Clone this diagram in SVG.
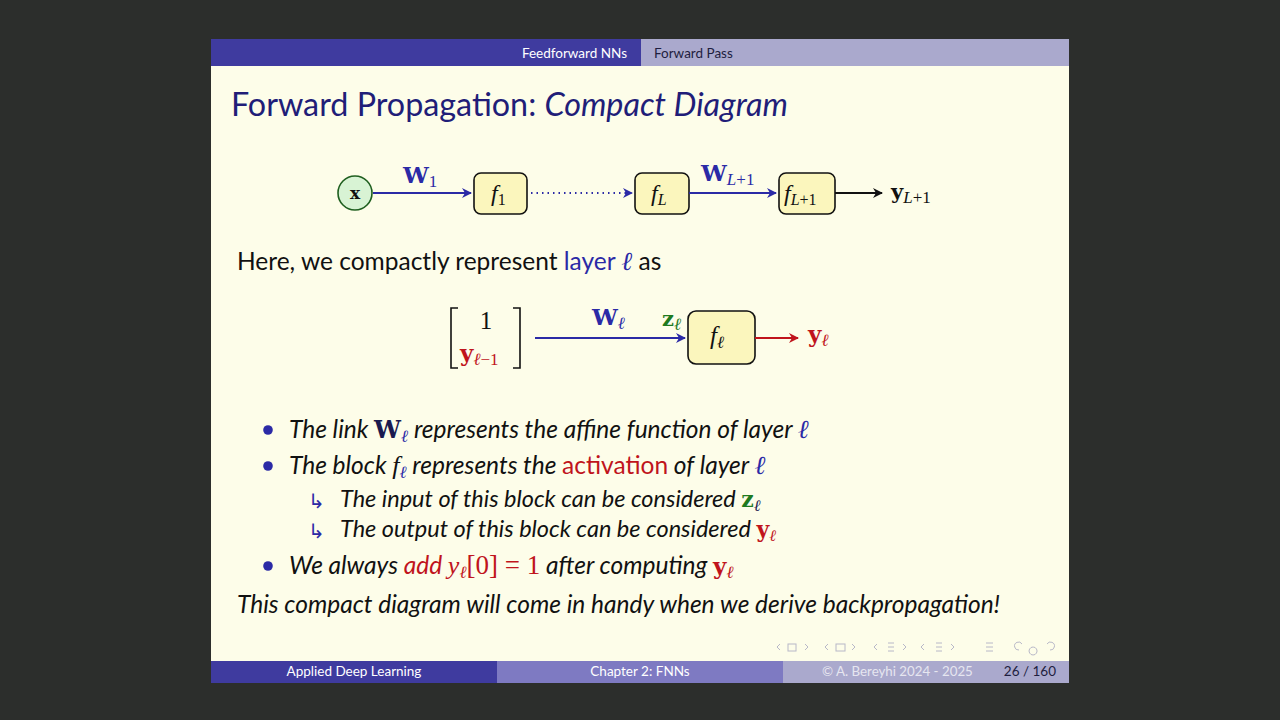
<svg xmlns="http://www.w3.org/2000/svg" width="1280" height="720" viewBox="0 0 1280 720">
<style>
.sans{font-family:Lato,"Open Sans","Liberation Sans",sans-serif}
.it{font-style:italic}
.mi{font-family:"Liberation Serif","DejaVu Serif",serif;font-style:italic}
.bf{font-family:"DejaVu Serif","Liberation Serif",serif;font-weight:bold}
.box{fill:#fbf6bd;stroke:#111;stroke-width:1.6}
.blue{fill:#2b2aa6}
.red{fill:#c0141c}
.green{fill:#1f7a1f}
</style>
<defs>
<marker id="ab" viewBox="0 0 10 10" refX="9" refY="5" markerWidth="10" markerHeight="10" markerUnits="userSpaceOnUse" orient="auto"><path d="M0,0 L10,5 L0,10 L3,5 z" fill="#2b2aa6"/></marker>
<marker id="ak" viewBox="0 0 10 10" refX="9" refY="5" markerWidth="10" markerHeight="10" markerUnits="userSpaceOnUse" orient="auto"><path d="M0,0 L10,5 L0,10 L3,5 z" fill="#111"/></marker>
<marker id="ar" viewBox="0 0 10 10" refX="9" refY="5" markerWidth="10" markerHeight="10" markerUnits="userSpaceOnUse" orient="auto"><path d="M0,0 L10,5 L0,10 L3,5 z" fill="#c0141c"/></marker>
</defs>
<rect x="0" y="0" width="1280" height="720" fill="#2c2e2c"/>
<rect x="211" y="39" width="858" height="644" fill="#fdfde9"/>
<!-- header -->
<rect x="211" y="39" width="430" height="27" fill="#3f3b9f"/>
<rect x="641" y="39" width="428" height="27" fill="#aaa9cd"/>
<text x="627" y="58" text-anchor="end" class="sans" font-size="13.5" fill="#ffffff">Feedforward NNs</text>
<text x="654" y="58" class="sans" font-size="13.5" fill="#1e1e40">Forward Pass</text>
<!-- title -->
<text x="231" y="116" class="sans" font-size="32.3" fill="#211d78">Forward Propagation: <tspan class="it">Compact Diagram</tspan></text>
<!-- top diagram nodes -->
<g id="node-x"><circle cx="355" cy="193" r="17" fill="#d8f3d4" stroke="#1f5f1f" stroke-width="1.6"/><text x="355" y="199" text-anchor="middle" class="bf" font-size="17" fill="#111">x</text></g>
<g id="node-f1"><rect x="474" y="173" width="53" height="41" rx="7" class="box"/><text x="491" y="201" class="mi" font-size="24" fill="#111">f<tspan font-size="16" font-style="normal" dy="4">1</tspan></text></g>
<g id="node-fL"><rect x="635" y="173" width="54" height="41" rx="7" class="box"/><text x="651" y="201" class="mi" font-size="24" fill="#111">f<tspan font-size="16" dy="4">L</tspan></text></g>
<g id="node-fL1"><rect x="779" y="173" width="56" height="41" rx="7" class="box"/><text x="784" y="201" class="mi" font-size="24" fill="#111">f<tspan font-size="16" dy="4">L<tspan font-style="normal">+1</tspan></tspan></text></g>
<g id="label-yL1"><text x="891" y="199" class="bf" font-size="21" fill="#111">y<tspan class="mi" font-weight="normal" font-size="17" dy="4">L<tspan font-style="normal">+1</tspan></tspan></text></g>
<!-- top diagram connectors -->
<g id="connectors-top">
<line x1="373" y1="193" x2="471" y2="193" stroke="#2b2aa6" stroke-width="1.8" marker-end="url(#ab)"/>
<line x1="531" y1="193" x2="632" y2="193" stroke="#2b2aa6" stroke-width="1.8" stroke-dasharray="1.5,4" marker-end="url(#ab)"/>
<line x1="689" y1="193" x2="776" y2="193" stroke="#2b2aa6" stroke-width="1.8" marker-end="url(#ab)"/>
<line x1="835" y1="193" x2="882" y2="193" stroke="#111" stroke-width="1.8" marker-end="url(#ak)"/>
<text x="403" y="183" class="bf blue" font-size="23">W<tspan font-weight="normal" font-family="Liberation Serif,serif" font-size="17" dy="4">1</tspan></text>
<text x="701" y="181" class="bf blue" font-size="23">W<tspan class="mi" font-weight="normal" font-size="17" dy="4">L<tspan font-style="normal">+1</tspan></tspan></text>
</g>
<!-- intro line -->
<text x="237" y="270" class="sans" font-size="24.5" fill="#111">Here, we compactly represent <tspan fill="#2b2aa6">layer <tspan class="mi" font-size="26">ℓ</tspan></tspan> as</text>
<!-- layer diagram -->
<g id="node-input">
<path d="M458,308 H451 V368 H458" fill="none" stroke="#111" stroke-width="1.6"/>
<path d="M513,308 H520 V368 H513" fill="none" stroke="#111" stroke-width="1.6"/>
<text x="486" y="329" text-anchor="middle" font-family="Liberation Serif,serif" font-size="25" fill="#111">1</text>
<text x="460" y="361" class="bf red" font-size="23">y<tspan class="mi" font-weight="normal" font-size="17" dy="4">ℓ<tspan font-style="normal">−1</tspan></tspan></text>
</g>
<g id="node-fl"><rect x="688" y="311" width="67" height="53" rx="8" class="box"/><text x="710" y="344" class="mi" font-size="25" fill="#111">f<tspan font-size="17" dy="4">ℓ</tspan></text></g>
<g id="label-yl"><text x="808" y="342" class="bf red" font-size="23">y<tspan class="mi" font-weight="normal" font-size="17" dy="4">ℓ</tspan></text></g>
<g id="connectors-layer">
<line x1="535" y1="338" x2="685" y2="338" stroke="#2b2aa6" stroke-width="1.8" marker-end="url(#ab)"/>
<line x1="755" y1="338" x2="798" y2="338" stroke="#c0141c" stroke-width="1.8" marker-end="url(#ar)"/>
<text x="592" y="325" class="bf blue" font-size="23">W<tspan class="mi" font-weight="normal" font-size="17" dy="4">ℓ</tspan></text>
<text x="662" y="326" class="bf green" font-size="21">z<tspan class="mi" font-weight="normal" font-size="17" dy="4">ℓ</tspan></text>
</g>
<!-- bullets -->
<g class="sans" font-size="24.5" fill="#111">
<circle cx="268" cy="430" r="4.8" fill="#2b2aa6"/>
<text x="289" y="438" class="it">The link <tspan class="bf" font-style="normal" fill="#1a1a50" font-size="24">W</tspan><tspan class="mi blue" font-size="17" dy="4">ℓ</tspan><tspan dy="-4"> represents the affine function of layer </tspan><tspan class="mi blue" font-size="26">ℓ</tspan></text>
<circle cx="268" cy="466" r="4.8" fill="#2b2aa6"/>
<text x="289" y="474" class="it">The block <tspan class="mi" font-size="26">f</tspan><tspan class="mi blue" font-size="17" dy="4">ℓ</tspan><tspan dy="-4"> represents the </tspan><tspan class="red" font-style="normal">activation</tspan> of layer <tspan class="mi blue" font-size="26">ℓ</tspan></text>
<text x="308" y="508" font-size="20" fill="#2b2aa6" font-family="DejaVu Sans,sans-serif">↳</text>
<text x="340" y="507" class="it" font-size="23.5">The input of this block can be considered <tspan class="bf green" font-style="normal" font-size="22">z</tspan><tspan class="mi" fill="#1a1a50" font-size="16" dy="4">ℓ</tspan></text>
<text x="308" y="538" font-size="20" fill="#2b2aa6" font-family="DejaVu Sans,sans-serif">↳</text>
<text x="340" y="537" class="it" font-size="23.5">The output of this block can be considered <tspan class="bf red" font-style="normal" font-size="22">y</tspan><tspan class="mi red" font-size="16" dy="4">ℓ</tspan></text>
<circle cx="268" cy="566" r="4.8" fill="#2b2aa6"/>
<text x="289" y="574" class="it">We always <tspan class="red">add</tspan> <tspan class="mi red" font-size="26">y</tspan><tspan class="mi red" font-size="17" dy="4">ℓ</tspan><tspan class="red" font-family="Liberation Serif,serif" font-style="normal" font-size="27" dy="-4">[0]  =  1</tspan> after computing <tspan class="bf red" font-style="normal" font-size="23">y</tspan><tspan class="mi red" font-size="17" dy="4">ℓ</tspan></text>
<text x="237" y="613" class="it">This compact diagram will come in handy when we derive backpropagation!</text>
</g>
<!-- nav icons -->
<g fill="none" stroke="#b8b8c8" stroke-width="1">
<rect x="788" y="644" width="8" height="7"/>
<rect x="836" y="644" width="9" height="7"/>
<path d="M777,647 l3,-3 M777,647 l3,3 M805,644 l3,3 l-3,3 M825,647 l3,-3 M825,647 l3,3 M852,644 l3,3 l-3,3"/>
<path d="M874,647 l3,-3 M874,647 l3,3 M888,643 h6 M888,647 h6 M888,651 h6 M903,644 l3,3 l-3,3"/>
<path d="M921,647 l3,-3 M921,647 l3,3 M936,643 h6 M936,647 h6 M936,651 h6 M951,644 l3,3 l-3,3"/>
<path d="M986,643 h7 M986,647 h7 M986,651 h7"/>
<path d="M1019,650 a4,4 0 1 1 3,-6 M1033,647 a4,4 0 1 0 0.1,0 M1050,650 a4,4 0 1 0 -3,-6"/>
</g>
<!-- footer -->
<rect x="211" y="661" width="286" height="22" fill="#3f3b9f"/>
<rect x="497" y="661" width="286" height="22" fill="#7e7ac2"/>
<rect x="783" y="661" width="286" height="22" fill="#aaa9cd"/>
<text x="354" y="676" text-anchor="middle" class="sans" font-size="13.5" fill="#ffffff">Applied Deep Learning</text>
<text x="640" y="676" text-anchor="middle" class="sans" font-size="13.5" fill="#ffffff">Chapter 2: FNNs</text>
<text x="822" y="676" class="sans" font-size="13.3" fill="#e6e6f0">© A. Bereyhi 2024 - 2025</text>
<text x="1056" y="676" text-anchor="end" class="sans" font-size="13.5" fill="#1e1e40">26 / 160</text>
</svg>
